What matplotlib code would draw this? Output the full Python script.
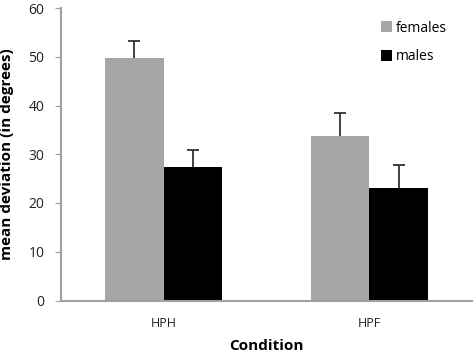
import numpy as np
import matplotlib.pyplot as plt

plt.rcParams['font.family'] = ['Open Sans', 'DejaVu Sans']

conditions = ["HPH", "HPF"]
females = [49.7, 33.8]
males = [27.3, 23.0]
females_err = [3.6, 4.6]
males_err = [3.5, 4.7]

fig = plt.figure(figsize=(4.74, 3.51), dpi=100)
ax = fig.add_axes([61 / 474, 50.5 / 351, 411 / 474, 292.5 / 351])

x = np.arange(len(conditions))
w = 0.285
ax.bar(x - w / 2, females, w, color="#a6a6a6", label="females")
ax.bar(x + w / 2, males, w, color="black", label="males")

# upper-only error bars, cap on top only
for xs, vals, errs in [(x - w / 2, females, females_err), (x + w / 2, males, males_err)]:
    tops = np.array(vals) + np.array(errs)
    ax.vlines(xs, vals, tops, color="#333333", linewidth=1.3, zorder=3)
    ax.plot(xs, tops, linestyle="none", marker="_", markersize=8, markeredgewidth=1.3,
            color="#333333", zorder=3)

ax.set_xlim(-0.5, 1.5)
ax.set_ylim(0, 60)
ax.set_yticks(range(0, 61, 10))
ax.set_xticks(x)
ax.set_xticklabels(conditions, fontsize=9, color="#222222")
ax.tick_params(axis="x", length=0, pad=12)
ax.tick_params(axis="y", length=4, color="#a0a0a0", labelsize=10, labelcolor="#222222", pad=8)

for s in ["top", "right"]:
    ax.spines[s].set_visible(False)
for s in ["left", "bottom"]:
    ax.spines[s].set_color("#a0a0a0")
    ax.spines[s].set_linewidth(1.5)

ax.set_ylabel("mean deviation (in degrees)", fontsize=11, fontweight="bold", labelpad=10)
ax.set_xlabel("Condition", fontsize=11, fontweight="bold", labelpad=6)

ax.legend(loc="upper right", bbox_to_anchor=(0.97, 1.0), frameon=False, fontsize=10,
          handlelength=0.8, handleheight=0.8, handletextpad=0.3, labelspacing=1.0)

fig.savefig("out.png", dpi=100)
